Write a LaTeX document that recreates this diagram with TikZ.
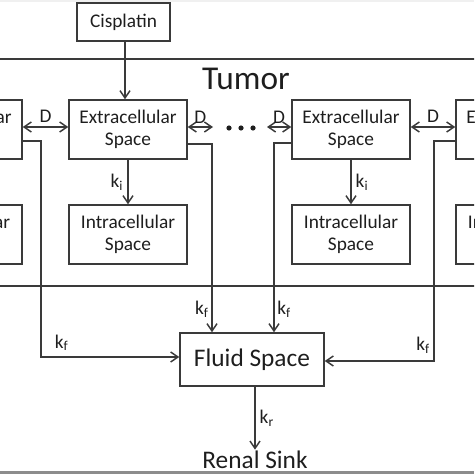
\documentclass[tikz,border=0pt]{standalone}
\usepackage{fontspec}
\setmainfont{Carlito}
\usetikzlibrary{arrows.meta,calc}
\definecolor{ln}{HTML}{3A3A3A}
\definecolor{tx}{HTML}{1E1E1E}
\begin{document}
\begin{tikzpicture}[x=0.75pt,y=-0.75pt,line width=1.1pt,
  box/.style={draw=ln,text=tx,inner sep=0pt,align=center,
    minimum width=88.5pt,minimum height=44.25pt,
    font=\fontsize{14.5}{16.5}\selectfont},
  lbl/.style={text=tx,inner sep=0pt,font=\fontsize{14.5}{16.5}\selectfont},
  arr/.style={draw=ln,-{Straight Barb[length=5.5pt,width=7.5pt]}},
  dbl/.style={draw=ln,{Straight Barb[length=5.5pt,width=7.5pt]}-{Straight Barb[length=5.5pt,width=7.5pt]}},
  ln/.style={draw=ln}]
\useasboundingbox (0,0) rectangle (474,474);
\clip (0,0) rectangle (474,474);
\fill[black!6] (0,0) rectangle (474,2.5);
\fill[black!45] (0,471) rectangle (474,474);
% tumor compartment
\draw[ln] (-10,59) rectangle (484,286);
\node[lbl,font=\fontsize{25}{28}\selectfont,anchor=base] (tumor) at (246,90) {Tumor};
% nodes
\node[box,minimum width=69.75pt,minimum height=28.5pt] (cis) at (123.5,22) {Cisplatin};
\node[box] (extL) at (-37,129.5) {Extracellular\\Space};
\node[box] (intL) at (-37,234.5) {Intracellular\\Space};
\node[box] (ext1) at (128,129.5) {Extracellular\\Space};
\node[box] (int1) at (128,234.5) {Intracellular\\Space};
\node[box] (ext2) at (351,129.5) {Extracellular\\Space};
\node[box] (int2) at (351,234.5) {Intracellular\\Space};
\node[box] (extR) at (515,129.5) {Extracellular\\Space};
\node[box] (intR) at (515,234.5) {Intracellular\\Space};
\node[box,minimum width=108pt,minimum height=39.75pt,font=\fontsize{19}{22}\selectfont] (fluid) at (252,359.5) {Fluid Space};
\node[lbl,font=\fontsize{19}{22}\selectfont,anchor=base] (renal) at (255,468) {Renal Sink};
% cisplatin input
\draw[arr] (cis.south -| 125,0) -- (ext1.north -| 125,0);
% diffusion
\coordinate (dA) at (213,127);
\coordinate (dB) at (267,127);
\draw[dbl] (extL.east |- 0,127) -- (ext1.west |- 0,127) node[lbl,midway,above=3pt] {D};
\draw[dbl] (ext1.east |- 0,127) -- (dA) node[lbl,midway,above=2pt] {D};
\draw[dbl] (dB) -- (ext2.west |- 0,127) node[lbl,midway,above=2pt] {D};
\draw[dbl] (ext2.east |- 0,127) -- (extR.west |- 0,127) node[lbl,midway,above=3pt] {D};
\foreach \i/\x in {1/229,2/241,3/253} \fill[tx] (\x,128) circle (2.6);
% internalisation
\draw[arr] (ext1.south) -- (int1.north) node[lbl,midway,left=3pt] {k\textsubscript{i}};
\draw[arr] (ext2.south) -- (int2.north) node[lbl,midway,right=3pt] {k\textsubscript{i}};
% flow to fluid space
\draw[arr] (ext1.east |- 0,144) -- (212,144) -- (fluid.north -| 212,0) node[lbl,pos=0.88,left=2pt] {k\textsubscript{f}};
\draw[arr] (ext2.west |- 0,143) -- (274,143) -- (fluid.north -| 274,0) node[lbl,pos=0.88,right=2pt] {k\textsubscript{f}};
\draw[arr] (extL.east |- 0,141) -- (41,141) -- (41,357) -- (fluid.west |- 0,357) node[lbl,pos=0.15,above=4pt] {k\textsubscript{f}};
\draw[arr] (extR.west |- 0,141) -- (434,141) -- (434,361) -- (fluid.east |- 0,361) node[lbl,pos=0.1,above=5pt] {k\textsubscript{f}};
% renal clearance
\draw[arr] (fluid.south -| 255,0) -- (renal.north -| 255,0) node[lbl,midway,right=3pt] {k\textsubscript{r}};
\end{tikzpicture}
\end{document}
